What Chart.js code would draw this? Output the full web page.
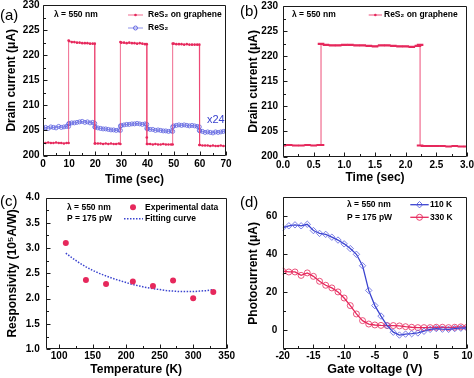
<!DOCTYPE html>
<html><head><meta charset="utf-8">
<script src="https://cdn.jsdelivr.net/npm/chart.js@4.4.1/dist/chart.umd.min.js"></script>
<style>
html,body{margin:0;padding:0;background:#fff;width:474px;height:378px;overflow:hidden}
#wrap{position:relative;width:474px;height:378px}
canvas{position:absolute;display:block}
.plab{position:absolute;font:15px "Liberation Sans",Arial,sans-serif;line-height:15px;color:#000}
</style></head><body><div id="wrap">
<canvas id="ca" width="237" height="188" style="left:0;top:0"></canvas>
<canvas id="cb" width="237" height="188" style="left:237px;top:0"></canvas>
<canvas id="cc" width="237" height="190" style="left:0;top:188px"></canvas>
<canvas id="cd" width="237" height="190" style="left:237px;top:188px"></canvas>
<div class="plab" style="left:0;top:7px">(a)</div>
<div class="plab" style="left:240px;top:3px">(b)</div>
<div class="plab" style="left:0;top:193px">(c)</div>
<div class="plab" style="left:240px;top:194px">(d)</div>
</div>
<script>
// ---------------- DATA ----------------
// (a) drain current vs time
const aXTicks = [0, 10, 20, 30, 40, 50, 60, 70];
const aYTicks = [200, 205, 210, 215, 220, 225, 230];
const aGrTime = [0,1,2,3,4,5,6,7,8,9,9.8,
  9.8,10,11,12,13,14,15,16,17,18,19,19.8,
  19.8,20,21,22,23,24,25,26,27,28,29,29.6,
  29.6,30,31,32,33,34,35,36,37,38,39,39.7,
  39.7,39.75,40,41,42,43,44,45,46,47,48,49,49.6,
  49.6,50,51,52,53,54,55,56,57,58,59,59.8,
  59.8,60,61,62,63,64,65,66,67,68,69,70];
const aGraphene = [202.6,202.5,202.6,202.5,202.5,202.6,202.5,202.5,202.4,202.5,202.5,
  222.9,222.8,222.6,222.6,222.5,222.5,222.4,222.4,222.4,222.3,222.3,222.3,
  202.4,202.4,202.4,202.4,202.3,202.4,202.3,202.4,202.3,202.3,202.4,202.3,
  222.6,222.5,222.5,222.4,222.5,222.4,222.4,222.3,222.4,222.3,222.2,222.2,
  203.6,202.3,202.3,202.3,202.2,202.3,202.2,202.2,202.3,202.2,202.2,202.2,202.2,
  222.3,222.3,222.2,222.2,222.2,222.1,222.2,222.1,222.1,222.1,222.1,222.1,
  202.1,202.1,202.0,202.0,202.0,201.9,202.0,201.9,201.9,202.0,201.9,201.9];
const aReTime = [0,1,2,3,4,5,6,7,8,9,9.8,
  9.8,10,11,12,13,14,15,16,17,18,19,19.8,
  19.8,20,21,22,23,24,25,26,27,28,29,29.6,
  29.6,30,31,32,33,34,35,36,37,38,39,39.7,
  39.7,40,41,42,43,44,45,46,47,48,49,49.6,
  49.6,50,51,52,53,54,55,56,57,58,59,59.8,
  59.8,60,61,62,63,64,65,66,67,68,69,70];
const aReS2 = [205.5,205.6,205.4,205.7,205.6,205.5,205.8,205.6,205.7,205.8,205.8,
  206.3,206.4,206.5,206.5,206.6,206.7,206.8,206.6,206.7,206.5,206.6,206.4,
  205.7,205.6,205.5,205.4,205.3,205.3,205.2,205.1,205.1,205.0,205.1,205.0,
  205.9,206.0,206.1,206.2,206.2,206.3,206.3,206.4,206.3,206.2,206.3,206.2,
  205.4,205.3,205.2,205.2,205.0,205.1,205.0,204.9,204.9,204.8,204.9,204.8,
  205.7,205.9,206.0,206.1,206.0,206.1,206.0,205.9,206.0,205.9,205.8,205.7,
  205.0,204.9,204.8,204.6,204.7,204.6,204.5,204.7,204.6,204.7,204.8,204.9];

// (b) single pulse
const bXTicks = [0, 0.5, 1, 1.5, 2, 2.5, 3];
const bYTicks = [200, 205, 210, 215, 220, 225, 230];
const bTime = [0,0.1,0.2,0.3,0.4,0.5,0.6,0.62,
  0.62,0.7,0.8,0.9,1.0,1.1,1.2,1.3,1.4,1.5,1.6,1.7,1.8,1.9,2.0,2.1,2.2,2.235,
  2.235,2.3,2.4,2.5,2.6,2.7,2.8,2.9,3.0];
const bGraphene = [202.2,202.3,202.2,202.2,202.3,202.2,202.3,202.3,
  222.5,222.3,222.2,222.2,222.3,222.3,222.2,222.2,222.1,222.0,222.2,222.2,222.1,222.0,222.0,221.9,222.1,222.3,
  202.2,202.1,202.1,202.1,202.1,202.0,202.1,202.0,202.0];

// (c) responsivity vs temperature
const cXTicks = [100, 150, 200, 250, 300, 350];
const cYTicks = [1.0, 1.5, 2.0, 2.5, 3.0, 3.5, 4.0];
const cTemp = [110, 140, 170, 210, 240, 270, 300, 330];
const cResp = [3.10, 2.37, 2.29, 2.34, 2.25, 2.36, 2.01, 2.13];
const cFitTemp = [110,120,130,140,150,160,170,180,190,200,210,220,230,240,250,260,270,280,290,300,310,320,330];
const cFit = [2.90,2.80,2.71,2.63,2.56,2.50,2.45,2.40,2.36,2.32,2.28,2.25,2.22,2.20,2.18,2.16,2.15,2.14,2.14,2.14,2.15,2.16,2.18];

// (d) photocurrent vs gate voltage
const dXTicks = [-20, -15, -10, -5, 0, 5, 10];
const dYTicks = [0, 20, 40, 60];
const dGate = [-20,-19,-18,-17,-16,-15,-14,-13,-12,-11,-10,-9,-8,-7,-6,-5,-4,-3,-2,-1,0,1,2,3,4,5,6,7,8,9,10];
const d110K = [54.0,55.0,55.5,55.0,55.8,52.5,51.0,50.5,49.0,47.5,45.5,43.0,40.0,34.0,21.0,13.0,7.5,2.5,-1.0,-2.5,-2.0,-1.8,-1.4,-0.5,0.5,0.9,0.6,0.5,0.9,1.1,1.2];
const d330K = [31.1,30.7,30.7,28.9,30.2,28.4,25.8,23.7,22.3,20.2,17.0,13.0,8.6,5.1,3.3,2.8,2.6,2.5,2.5,2.3,1.9,1.6,1.4,1.4,1.4,1.6,1.6,1.4,1.6,1.8,1.6];

// ---------------- RENDERING ----------------
const FF = '"Liberation Sans", Arial, sans-serif';
const RED = '#e6285c';
const BLUE = '#3a43cf';
const BLUE2 = '#5a5fe0';
Chart.defaults.font.family = FF;
Chart.defaults.color = '#000';

const pts = (xs, ys) => xs.map((x, i) => ({x: x, y: ys[i]}));

function xScale(min, max, ticks, title, fmt, pad, h, tPad, tSize) {
  return {
    type: 'linear', min: min, max: max,
    afterBuildTicks: s => { s.ticks = ticks.map(v => ({value: v})); },
    afterFit: s => { s.height = h; s.paddingLeft = 0; s.paddingRight = 0; },
    grid: {display: false, drawTicks: false}, border: {display: false},
    ticks: {padding: pad, color: '#000', autoSkip: false, maxRotation: 0,
      font: {family: FF, weight: 'bold', size: 10}, callback: fmt},
    title: {display: true, text: title, color: '#000',
      font: {family: FF, weight: 'bold', size: tSize || 12}, padding: {top: 0, bottom: tPad}}
  };
}
function yScale(min, max, ticks, title, fmt, pad, w, tPad, tSize) {
  return {
    type: 'linear', min: min, max: max,
    afterBuildTicks: s => { s.ticks = ticks.map(v => ({value: v})); },
    afterFit: s => { s.width = w; s.paddingTop = 0; s.paddingBottom = 0; },
    grid: {display: false, drawTicks: false}, border: {display: false},
    ticks: {padding: pad, color: '#000', autoSkip: false,
      font: {family: FF, weight: 'bold', size: 10}, callback: fmt},
    title: {display: true, text: title, color: '#000',
      font: {family: FF, weight: 'bold', size: tSize || 12}, padding: {top: tPad, bottom: 0}}
  };
}

function framePlugin(xMinor, yMinor) {
  return {
    id: 'frame',
    afterDatasetsDraw(chart) {
      const ctx = chart.ctx, a = chart.chartArea, sx = chart.scales.x, sy = chart.scales.y;
      const L = Math.round(a.left) + 0.5, R = Math.round(a.right) - 0.5;
      const T = Math.round(a.top) + 0.5, B = Math.round(a.bottom) - 0.5;
      ctx.save();
      ctx.strokeStyle = '#1a1a1a'; ctx.lineWidth = 1;
      ctx.beginPath();
      ctx.rect(L, T, R - L, B - T);
      const xm = sx.ticks.map(t => t.value), ym = sy.ticks.map(t => t.value);
      const isMaj = (arr, v) => arr.some(m => Math.abs(m - v) < 1e-6);
      for (let v = Math.ceil(sx.min / xMinor - 1e-9) * xMinor; v <= sx.max + 1e-9; v += xMinor) {
        const p = Math.round(sx.getPixelForValue(v)) + 0.5;
        const len = isMaj(xm, v) ? 4 : 2.5;
        ctx.moveTo(p, B); ctx.lineTo(p, B - len);
      }
      for (let v = Math.ceil(sy.min / yMinor - 1e-9) * yMinor; v <= sy.max + 1e-9; v += yMinor) {
        const p = Math.round(sy.getPixelForValue(v)) + 0.5;
        const len = isMaj(ym, v) ? 4 : 2.5;
        ctx.moveTo(L, p); ctx.lineTo(L + len, p);
      }
      ctx.stroke();
      ctx.restore();
    }
  };
}

function drawMarker(ctx, style, x, y, r, color, filled) {
  ctx.beginPath();
  if (style === 'rectRot') {
    ctx.moveTo(x, y - r); ctx.lineTo(x + r, y); ctx.lineTo(x, y + r); ctx.lineTo(x - r, y); ctx.closePath();
  } else {
    ctx.arc(x, y, r, 0, Math.PI * 2);
  }
  if (filled) { ctx.fillStyle = color; ctx.fill(); }
  else { ctx.strokeStyle = color; ctx.lineWidth = 0.9; ctx.stroke(); }
}

function notesPlugin(texts, legend) {
  return {
    id: 'notes',
    afterDraw(chart) {
      const ctx = chart.ctx;
      ctx.save();
      ctx.textBaseline = 'middle'; ctx.textAlign = 'left';
      texts.forEach(t => {
        ctx.font = t.font || ('bold 8.5px ' + FF);
        ctx.fillStyle = t.color || '#000';
        ctx.fillText(t.text, t.x, t.y);
      });
      legend.forEach(it => {
        const ds = chart.data.datasets[it.ds];
        if (it.line) {
          ctx.beginPath();
          ctx.strokeStyle = it.lineColor || ds.borderColor;
          ctx.lineWidth = it.lw || ds.borderWidth;
          ctx.setLineDash(ds.borderDash || []);
          ctx.moveTo(it.x0, it.y); ctx.lineTo(it.x1, it.y); ctx.stroke();
          ctx.setLineDash([]);
        }
        if (it.marker) drawMarker(ctx, it.marker, (it.x0 + it.x1) / 2, it.y, it.r, it.mColor || ds.pointBorderColor || ds.borderColor, it.filled);
        ctx.font = 'bold 8.5px ' + FF;
        ctx.fillStyle = '#000';
        ctx.fillText(ds.label, it.tx, it.y);
      });
      ctx.restore();
    }
  };
}

const base = {animation: false, responsive: false, devicePixelRatio: 1,
  plugins: {legend: {display: false}, tooltip: {enabled: false}}};

// (a)
new Chart(document.getElementById('ca'), {
  type: 'scatter',
  data: {datasets: [
    {label: 'ReS\u2082 on graphene', data: pts(aGrTime, aGraphene), showLine: true,
      borderColor: 'rgba(236,70,115,0.8)', borderWidth: 1, pointRadius: 1.3,
      pointBackgroundColor: RED, pointBorderWidth: 0, order: 1},
    {label: 'ReS\u2082', data: pts(aReTime, aReS2), showLine: true,
      borderColor: 'rgba(80,85,220,0.8)', borderWidth: 0.8, pointRadius: 2,
      pointBackgroundColor: 'rgba(0,0,0,0)', pointBorderColor: BLUE2, pointBorderWidth: 0.8, order: 2}
  ]},
  options: Object.assign({}, base, {
    layout: {padding: {left: 0, top: 5, right: 11, bottom: 0}},
    scales: {
      x: xScale(0, 70, aXTicks, 'Time (sec)', v => String(v), 2.5, 32.5, 0.8),
      y: yScale(200, 230, aYTicks, 'Drain current (\u03bcA)', v => String(v), 3.5, 43, 4.5)
    }
  }),
  plugins: [framePlugin(5, 2.5), notesPlugin(
    [{text: '\u03bb = 550 nm', x: 54, y: 15},
     {text: 'x24', x: 207, y: 120, color: BLUE, font: '11px ' + FF}],
    [{ds: 0, line: true, x0: 128, x1: 143, y: 15, tx: 148, marker: 'circle', r: 1.3, filled: true, mColor: RED},
     {ds: 1, line: true, x0: 128, x1: 143, y: 28, tx: 148, marker: 'circle', r: 2, filled: false}])]
});

// (b)
new Chart(document.getElementById('cb'), {
  type: 'scatter',
  data: {datasets: [
    {label: 'ReS\u2082 on graphene', data: pts(bTime, bGraphene), showLine: true,
      borderColor: 'rgba(236,70,115,0.8)', borderWidth: 1.2, pointStyle: 'line', pointRadius: 3.3,
      pointBorderColor: RED, pointBorderWidth: 2.2}
  ]},
  options: Object.assign({}, base, {
    layout: {padding: {left: 0, top: 5, right: 7, bottom: 0}},
    scales: {
      x: xScale(0, 3, bXTicks, 'Time (sec)', v => v.toFixed(1), 2.5, 31.5, 2.8),
      y: yScale(200, 230, bYTicks, 'Drain current (\u03bcA)', v => String(v), 5, 46, 9.5)
    }
  }),
  plugins: [framePlugin(0.25, 2.5), notesPlugin(
    [{text: '\u03bb = 550 nm', x: 55, y: 15}],
    [{ds: 0, line: true, x0: 131.7, x1: 145, y: 15, tx: 147, marker: 'circle', r: 1.3, filled: true, mColor: RED}])]
});

// (c)
new Chart(document.getElementById('cc'), {
  type: 'scatter',
  data: {datasets: [
    {label: 'Experimental data', data: pts(cTemp, cResp), showLine: false,
      pointRadius: 3, pointBackgroundColor: RED, pointBorderColor: RED, pointBorderWidth: 0},
    {label: 'Fitting curve', data: pts(cFitTemp, cFit), showLine: true,
      borderColor: BLUE, borderWidth: 1.5, borderDash: [1.5, 1.5], pointRadius: 0}
  ]},
  options: Object.assign({}, base, {
    layout: {padding: {left: 0, top: 9.5, right: 10.3, bottom: 0}},
    scales: {
      x: xScale(80, 350, cXTicks, 'Temperature (K)', v => String(v), 1, 28.7, 1.1),
      y: yScale(1, 4, cYTicks, 'Responsivity (10\u2075A/W)', v => v.toFixed(1), 6, 45.7, 5.3)
    }
  }),
  plugins: [framePlugin(25, 0.25), notesPlugin(
    [{text: '\u03bb = 550 nm', x: 67, y: 19.3},
     {text: 'P = 175 pW', x: 67, y: 30.7}],
    [{ds: 0, line: false, x0: 133, x1: 133, y: 19.3, tx: 145, marker: 'circle', r: 3, filled: true, mColor: RED},
     {ds: 1, line: true, x0: 124, x1: 143, y: 30.7, tx: 145}])]
});

// (d)
new Chart(document.getElementById('cd'), {
  type: 'scatter',
  data: {datasets: [
    {label: '110 K', data: pts(dGate, d110K), showLine: true,
      borderColor: BLUE, borderWidth: 1.3, pointStyle: 'rectRot', pointRadius: 3.2,
      pointBackgroundColor: 'rgba(0,0,0,0)', pointBorderColor: BLUE2, pointBorderWidth: 0.8},
    {label: '330 K', data: pts(dGate, d330K), showLine: true,
      borderColor: RED, borderWidth: 1.3, pointStyle: 'circle', pointRadius: 3,
      pointBackgroundColor: 'rgba(0,0,0,0)', pointBorderColor: RED, pointBorderWidth: 0.8}
  ]},
  options: Object.assign({}, base, {
    layout: {padding: {left: 0, top: 9.3, right: 7, bottom: 0}},
    scales: {
      x: xScale(-20, 10, dXTicks, 'Gate voltage (V)', v => String(v), 1, 28.7, 0.5, 12.5),
      y: yScale(-10, 70, dYTicks, 'Photocurrent (\u03bcA)', v => String(v), 5.5, 45.7, 9.5)
    }
  }),
  plugins: [framePlugin(2.5, 10), notesPlugin(
    [{text: '\u03bb = 550 nm', x: 110, y: 16.7},
     {text: 'P = 175 pW', x: 110, y: 29.3}],
    [{ds: 0, line: true, x0: 173.3, x1: 191.7, y: 16.7, tx: 193, marker: 'rectRot', r: 3.2, filled: false, mColor: BLUE2},
     {ds: 1, line: true, x0: 173.3, x1: 191.7, y: 29.3, tx: 193, marker: 'circle', r: 3, filled: false}])]
});
</script>
</body></html>
